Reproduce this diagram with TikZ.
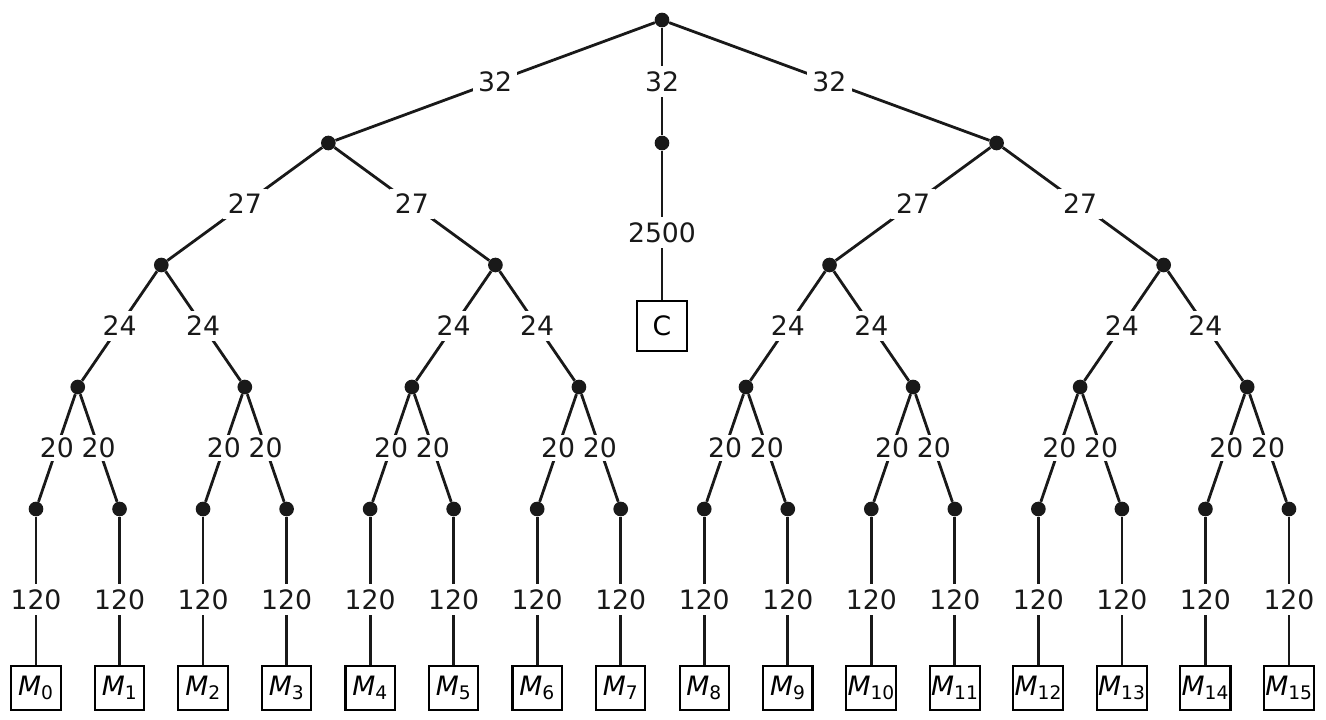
\documentclass[tikz,border=0pt]{standalone}
\usepackage{fontspec}
\setmainfont{DejaVu Sans}
\begin{document}
\begin{tikzpicture}[x=0.75pt,y=-0.75pt,
  dot/.style={circle,fill=black!90,inner sep=0pt,minimum size=11pt},
  lbl/.style={fill=white,inner sep=4pt,font=\fontsize{20pt}{22pt}\selectfont},
  leafbox/.style={draw,line width=1.6pt,minimum width=37pt,minimum height=33pt,inner sep=1pt,font=\fontsize{20pt}{22pt}\selectfont},
  edge/.style={line width=2.1pt,black!90}]
\useasboundingbox (0,0) rectangle (1326,720);
\node[dot] (root) at (662,20) {};
\node[dot] (c1) at (662,143) {};
\node[leafbox,minimum width=38pt,minimum height=38pt] (cbox) at (662,326) {C};
\foreach \m in {0,1} \node[dot] (n1-\m) at ({36+83.53*(8*\m+3.5)},143) {};
\foreach \k in {0,...,3} \node[dot] (n2-\k) at ({36+83.53*(4*\k+1.5)},265) {};
\foreach \j in {0,...,7} \node[dot] (n3-\j) at ({36+83.53*(2*\j+0.5)},387) {};
\foreach \i in {0,...,15} {
  \node[dot] (n4-\i) at ({36+83.53*\i},509) {};
  \node[leafbox] (m-\i) at ({36+83.53*\i},688) {\textit{M}\textsubscript{\i}};
}
\draw[edge] (root) -- node[lbl]{32} (n1-0);
\draw[edge] (root) -- node[lbl]{32} (c1);
\draw[edge] (root) -- node[lbl]{32} (n1-1);
\draw[edge] (c1) -- node[lbl,pos=0.55]{2500} (cbox);
\foreach \m in {0,1} {
  \pgfmathtruncatemacro\a{2*\m}\pgfmathtruncatemacro\b{2*\m+1}
  \draw[edge] (n1-\m) -- node[lbl]{27} (n2-\a);
  \draw[edge] (n1-\m) -- node[lbl]{27} (n2-\b);
}
\foreach \k in {0,...,3} {
  \pgfmathtruncatemacro\a{2*\k}\pgfmathtruncatemacro\b{2*\k+1}
  \draw[edge] (n2-\k) -- node[lbl]{24} (n3-\a);
  \draw[edge] (n2-\k) -- node[lbl]{24} (n3-\b);
}
\foreach \j in {0,...,7} {
  \pgfmathtruncatemacro\a{2*\j}\pgfmathtruncatemacro\b{2*\j+1}
  \draw[edge] (n3-\j) -- node[lbl,inner sep=2pt]{20} (n4-\a);
  \draw[edge] (n3-\j) -- node[lbl,inner sep=2pt]{20} (n4-\b);
}
\foreach \i in {0,...,15} \draw[edge] (n4-\i) -- node[lbl,pos=0.56]{120} (m-\i);
\end{tikzpicture}
\end{document}
